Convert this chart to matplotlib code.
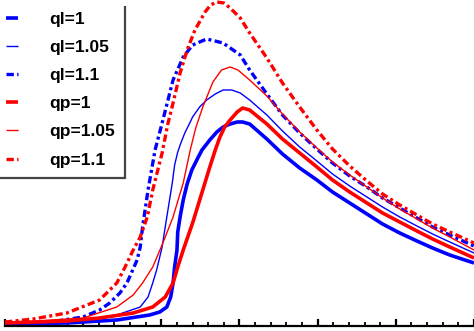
import matplotlib
matplotlib.use("Agg")
import matplotlib.pyplot as plt
from matplotlib.ticker import MultipleLocator
from matplotlib.transforms import Bbox, TransformedBbox

# ---- data ----
tail_x = [3.13, 3.35, 3.55, 3.77, 3.99, 4.19, 4.41, 4.63, 4.83, 5.05, 5.27, 5.47, 5.69, 6.00]

ql1_x = [0, 0.79, 1.43, 1.85, 1.98, 2.07, 2.12, 2.15, 2.17, 2.20, 2.21, 2.24, 2.28, 2.33, 2.39, 2.46, 2.52, 2.62, 2.71, 2.79, 2.88, 2.97, 3.04] + tail_x
ql1_y = [0.02, 0.03, 0.06, 0.11, 0.14, 0.19, 0.29, 0.43, 0.59, 0.76, 0.94, 1.09, 1.26, 1.42, 1.56, 1.67, 1.76, 1.86, 1.94, 1.99, 2.02, 2.04, 2.04,
         2.02, 1.87, 1.72, 1.58, 1.46, 1.34, 1.23, 1.12, 1.02, 0.93, 0.85, 0.78, 0.71, 0.63]

ql105_x = [0, 1.00, 1.43, 1.73, 1.83, 1.89, 1.94, 2.01, 2.07, 2.14, 2.17, 2.21, 2.25, 2.30, 2.37, 2.40, 2.49, 2.58, 2.69, 2.79, 2.90, 3.01] + tail_x
ql105_y = [0.02, 0.06, 0.11, 0.19, 0.29, 0.43, 0.56, 0.79, 1.09, 1.43, 1.61, 1.74, 1.83, 1.93, 2.04, 2.09, 2.19, 2.26, 2.32, 2.36, 2.36, 2.33,
           2.26, 2.11, 1.95, 1.79, 1.65, 1.52, 1.40, 1.29, 1.19, 1.09, 1.00, 0.92, 0.84, 0.73]

ql11_x = [0, 0.58, 1.00, 1.21, 1.34, 1.47, 1.56, 1.69, 1.73, 1.76, 1.83, 1.92, 2.02, 2.15, 2.28, 2.40, 2.58, 2.79, 3.01] + tail_x
ql11_y = [0.03, 0.04, 0.09, 0.16, 0.23, 0.33, 0.43, 0.66, 0.79, 0.99, 1.36, 1.76, 2.06, 2.46, 2.69, 2.81, 2.87, 2.83, 2.71,
          2.56, 2.32, 2.11, 1.93, 1.77, 1.63, 1.50, 1.39, 1.28, 1.18, 1.08, 0.99, 0.91, 0.80]

qp1_x = [0, 0.79, 1.21, 1.64, 1.89, 2.05, 2.15, 2.21, 2.28, 2.40, 2.53, 2.62, 2.69, 2.75, 2.81, 2.88, 2.97, 3.04] + tail_x
qp1_y = [0.03, 0.05, 0.08, 0.13, 0.19, 0.29, 0.43, 0.59, 0.76, 1.03, 1.36, 1.59, 1.76, 1.89, 1.99, 2.06, 2.14, 2.18,
         2.16, 2.02, 1.87, 1.73, 1.59, 1.46, 1.34, 1.23, 1.13, 1.04, 0.95, 0.87, 0.79, 0.68]

qp105_x = [0, 1.00, 1.43, 1.64, 1.76, 1.89, 2.02, 2.15, 2.28, 2.37, 2.44, 2.53, 2.66, 2.77, 2.88, 2.98] + tail_x
qp105_y = [0.03, 0.08, 0.19, 0.31, 0.43, 0.59, 0.83, 1.09, 1.43, 1.76, 1.98, 2.19, 2.44, 2.56, 2.59, 2.56,
           2.46, 2.30, 2.12, 1.94, 1.78, 1.64, 1.51, 1.39, 1.28, 1.17, 1.07, 0.98, 0.89, 0.76]

qp11_x = [0, 0.36, 0.79, 1.21, 1.43, 1.53, 1.64, 1.73, 1.82, 1.89, 2.01, 2.08, 2.15, 2.24, 2.33, 2.43, 2.56, 2.63, 2.71, 2.80, 2.88, 3.01] + tail_x
qp11_y = [0.04, 0.07, 0.13, 0.26, 0.43, 0.58, 0.76, 0.89, 1.09, 1.36, 1.73, 2.01, 2.23, 2.53, 2.76, 2.96, 3.14, 3.21, 3.24, 3.23, 3.18, 3.08,
          2.93, 2.68, 2.43, 2.19, 1.96, 1.77, 1.60, 1.45, 1.32, 1.21, 1.11, 1.02, 0.94, 0.83]

labels = ["ql=1", "ql=1.05", "ql=1.1", "qp=1", "qp=1.05", "qp=1.1"]

BLUE = "#0000ff"
RED = "#ff0000"
dashdot = (0, (2.2, 1.0, 0.9, 1.0))

fig = plt.figure(figsize=(4.74, 3.31), dpi=100)
ax = fig.add_axes([5 / 474, 5 / 331, 469 / 474, 326 / 331])

series = [
    (ql1_x, ql1_y, BLUE, 2.6, "-"),
    (ql105_x, ql105_y, BLUE, 1.0, "-"),
    (ql11_x, ql11_y, BLUE, 2.4, dashdot),
    (qp1_x, qp1_y, RED, 2.6, "-"),
    (qp105_x, qp105_y, RED, 1.0, "-"),
    (qp11_x, qp11_y, RED, 2.4, dashdot),
]
for (xs, ys, c, lw, ls), lab in zip(series, labels):
    ax.plot(xs, ys, color=c, lw=lw, linestyle=ls, label=lab, clip_on=False,
            solid_joinstyle="round", solid_capstyle="butt")

ax.set_xlim(0, 6)
ax.set_ylim(0, 3.26)
for s in ["top", "left", "right"]:
    ax.spines[s].set_visible(False)
ax.spines["bottom"].set_linewidth(1.6)
ax.xaxis.set_major_locator(MultipleLocator(1))
ax.xaxis.set_minor_locator(MultipleLocator(0.2))
ax.tick_params(axis="x", which="major", direction="in", length=5, width=1.6, labelbottom=False)
ax.tick_params(axis="x", which="minor", direction="in", length=3, width=1.3)
ax.set_yticks([])

leg = ax.legend(loc="lower right", bbox_to_anchor=(125 / 474, 1 - 178 / 331),
                bbox_transform=fig.transFigure, borderaxespad=0,
                prop={"family": "Liberation Sans", "weight": "bold", "size": 12.5},
                handlelength=0.69, handletextpad=1.75, labelspacing=0.75,
                borderpad=0.6, fancybox=False, framealpha=1)
frame = leg.get_frame()
frame.set_edgecolor("#444444")
frame.set_linewidth(1.6)
frame.set_clip_on(True)
frame.set_clip_box(TransformedBbox(Bbox([[0, 0], [1, 1 - 6 / 331]]), fig.transFigure))

fig.savefig("out.png", dpi=100)
